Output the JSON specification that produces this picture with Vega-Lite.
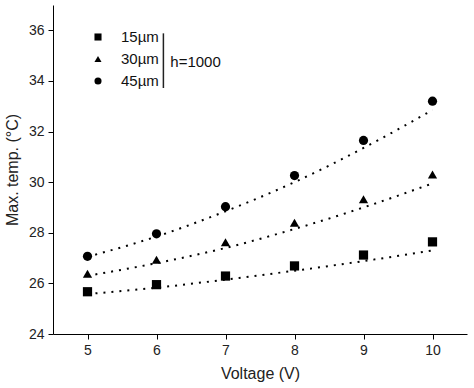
{
  "$schema": "https://vega.github.io/schema/vega-lite/v6.json",
  "width": 414,
  "height": 329,
  "autosize": {"type": "none"},
  "padding": {"left": 53, "top": 5, "right": 7, "bottom": 54},
  "background": "white",
  "config": {
    "view": {"stroke": null},
    "font": "Liberation Sans",
    "axis": {"grid": false, "domainColor": "black", "tickColor": "black", "labelColor": "#222", "titleColor": "#222", "labelFont": "Liberation Sans", "titleFont": "Liberation Sans", "titleFontWeight": "normal", "labelFontSize": 14, "titleFontSize": 16}
  },
  "datasets": {
    "pts": [
      {"voltage": 5, "temp": 25.67, "series": "15µm"},
      {"voltage": 6, "temp": 25.95, "series": "15µm"},
      {"voltage": 7, "temp": 26.29, "series": "15µm"},
      {"voltage": 8, "temp": 26.69, "series": "15µm"},
      {"voltage": 9, "temp": 27.12, "series": "15µm"},
      {"voltage": 10, "temp": 27.64, "series": "15µm"},
      {"voltage": 5, "temp": 26.38, "series": "30µm"},
      {"voltage": 6, "temp": 26.93, "series": "30µm"},
      {"voltage": 7, "temp": 27.63, "series": "30µm"},
      {"voltage": 8, "temp": 28.4, "series": "30µm"},
      {"voltage": 9, "temp": 29.32, "series": "30µm"},
      {"voltage": 10, "temp": 30.3, "series": "30µm"},
      {"voltage": 5, "temp": 27.07, "series": "45µm"},
      {"voltage": 6, "temp": 27.96, "series": "45µm"},
      {"voltage": 7, "temp": 29.03, "series": "45µm"},
      {"voltage": 8, "temp": 30.26, "series": "45µm"},
      {"voltage": 9, "temp": 31.65, "series": "45µm"},
      {"voltage": 10, "temp": 33.2, "series": "45µm"}
    ],
    "fit": [
      {"voltage": 5, "temp": 25.58, "series": "15µm"},
      {"voltage": 6, "temp": 25.83, "series": "15µm"},
      {"voltage": 7, "temp": 26.15, "series": "15µm"},
      {"voltage": 8, "temp": 26.5, "series": "15µm"},
      {"voltage": 9, "temp": 26.88, "series": "15µm"},
      {"voltage": 10, "temp": 27.3, "series": "15µm"},
      {"voltage": 5, "temp": 26.3, "series": "30µm"},
      {"voltage": 6, "temp": 26.8, "series": "30µm"},
      {"voltage": 7, "temp": 27.4, "series": "30µm"},
      {"voltage": 8, "temp": 28.15, "series": "30µm"},
      {"voltage": 9, "temp": 29.0, "series": "30µm"},
      {"voltage": 10, "temp": 29.95, "series": "30µm"},
      {"voltage": 5, "temp": 27.05, "series": "45µm"},
      {"voltage": 6, "temp": 27.85, "series": "45µm"},
      {"voltage": 7, "temp": 28.85, "series": "45µm"},
      {"voltage": 8, "temp": 30.0, "series": "45µm"},
      {"voltage": 9, "temp": 31.35, "series": "45µm"},
      {"voltage": 10, "temp": 32.85, "series": "45µm"}
    ],
    "note": [{"label": "h=1000", "vx": 6.2, "vy": 34.76, "bx": 6.1, "by": 35.88, "by2": 33.72}]
  },
  "layer": [
    {
      "data": {"name": "fit"},
      "mark": {"type": "line", "color": "black", "strokeWidth": 2, "strokeDash": [2, 6], "strokeCap": "butt", "interpolate": "monotone"},
      "encoding": {
        "x": {"field": "voltage", "type": "quantitative", "scale": {"domain": [4.5, 10.5], "nice": false, "zero": false},
              "axis": {"title": "Voltage (V)", "values": [5, 6, 7, 8, 9, 10], "format": "d", "tickSize": 5, "labelPadding": 4, "titlePadding": 8, "labelFlush": false}},
        "y": {"field": "temp", "type": "quantitative", "scale": {"domain": [24, 37], "nice": false, "zero": false},
              "axis": {"title": "Max. temp. (°C)", "values": [24, 25, 26, 27, 28, 29, 30, 31, 32, 33, 34, 35, 36, 37],
                       "labelOverlap": false,
                       "labelExpr": "datum.value % 2 == 0 ? format(datum.value, 'd') : ''",
                       "tickSize": {"condition": {"test": "datum.value % 2 == 0", "value": 5}, "value": 3},
                       "labelPadding": 4, "titlePadding": 8, "labelFlush": false}},
        "detail": {"field": "series"}
      }
    },
    {
      "data": {"name": "pts"},
      "mark": {"type": "point", "filled": true, "color": "black", "opacity": 1, "size": 85},
      "encoding": {
        "x": {"field": "voltage", "type": "quantitative"},
        "y": {"field": "temp", "type": "quantitative"},
        "shape": {"field": "series", "type": "nominal",
                  "scale": {"domain": ["15µm", "30µm", "45µm"], "range": ["square", "triangle-up", "circle"]},
                  "legend": {"title": null, "orient": "none", "legendX": 37.5, "legendY": 24.5, "padding": 0,
                             "symbolSize": 50, "symbolFillColor": "black", "symbolStrokeColor": "black", "symbolStrokeWidth": 0,
                             "labelFontSize": 15, "labelFont": "Liberation Sans", "labelColor": "#111", "labelOffset": 15.5, "rowPadding": 6}}
      }
    },
    {
      "data": {"name": "note"},
      "mark": {"type": "rule", "color": "#222", "strokeWidth": 1.5},
      "encoding": {
        "x": {"field": "bx", "type": "quantitative"},
        "y": {"field": "by", "type": "quantitative"},
        "y2": {"field": "by2"}
      }
    },
    {
      "data": {"name": "note"},
      "mark": {"type": "text", "align": "left", "baseline": "middle", "fontSize": 15, "font": "Liberation Sans", "color": "#111"},
      "encoding": {
        "x": {"field": "vx", "type": "quantitative"},
        "y": {"field": "vy", "type": "quantitative"},
        "text": {"field": "label"}
      }
    }
  ]
}
